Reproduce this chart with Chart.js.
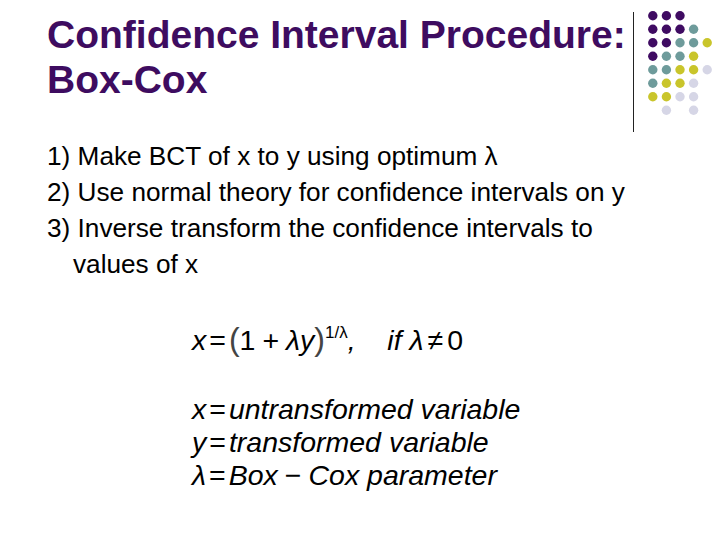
<!DOCTYPE html>
<html>
<head>
<meta charset="utf-8">
<script src="https://cdn.jsdelivr.net/npm/chart.js@4.4.1/dist/chart.umd.min.js"></script>
<style>
  html, body { margin: 0; padding: 0; background: #fff; }
  body { width: 728px; height: 546px; position: relative; overflow: hidden;
         font-family: Arial, "Liberation Sans", sans-serif; }
  .title { position: absolute; left: 47px; top: 12px; font-size: 39px; line-height: 45px;
           font-weight: bold; color: #3e0c60; white-space: nowrap; }
  .bullets { position: absolute; left: 47px; top: 138px; font-size: 26.2px; line-height: 36px;
             color: #000; white-space: nowrap; }
  .bullets .cont { padding-left: 26px; }
  .eq { position: absolute; left: 192px; font-size: 28.5px; line-height: 28px; color: #000;
        white-space: nowrap; font-style: italic; }
  .eq .up { font-style: normal; }
  .eq .op { font-style: normal; margin: 0 3px; }
  .eq .pm { font-style: normal; margin: 0 7px; }
  .eq .ne { font-style: normal; margin: 0 4px; }
  .eq .par { font-style: normal; font-weight: 100; color: #444; font-size: 32px; }
  .eq sup { font-size: 17px; font-style: normal; vertical-align: 0; position: relative; top: -12px; }
  .vline { position: absolute; left: 633px; top: 12px; width: 1px; height: 120px; background: #222; }
  #dotsWrap { position: absolute; left: 646px; top: 9px; width: 68px; height: 108px; }
</style>
</head>
<body>
<div class="title">Confidence Interval Procedure:<br>Box-Cox</div>

<div class="bullets">
  <div>1) Make BCT of x to y using optimum λ</div>
  <div>2) Use normal theory for confidence intervals on y</div>
  <div>3) Inverse transform the confidence intervals to</div>
  <div class="cont">values of x</div>
</div>

<div class="eq" style="top:325px">x<span class="op">=</span><span class="par">(</span><span class="up">1</span><span class="pm">+</span>λy<span class="par">)</span><sup>1/λ</sup>,&nbsp;&nbsp;&nbsp; if λ<span class="ne">≠</span><span class="up">0</span></div>
<div class="eq" style="top:395px">x<span class="op">=</span>untransformed variable</div>
<div class="eq" style="top:428px">y<span class="op">=</span>transformed variable</div>
<div class="eq" style="top:461px">λ<span class="op">=</span>Box<span class="pm">−</span>Cox parameter</div>

<div class="vline"></div>
<div id="dotsWrap"><canvas id="dots" width="68" height="108"></canvas></div>

<script>
// decorative dot grid, one string per row, one letter per column
const gridRows = [
  "PPP..",
  "PPPT.",
  "PPTTY",
  "PTTY.",
  "TTYYL",
  "TYYL.",
  "YYLL.",
  ".L.L."
];
const dotKeys = ["P", "T", "Y", "L"];
const dotColors = ["#3f0b62", "#6e9b9b", "#c9c52b", "#d6d6e6"];

const datasets = dotKeys.map((key, k) => {
  const pts = [];
  gridRows.forEach((row, r) => {
    row.split("").forEach((c, col) => {
      if (c === key) pts.push({ x: col, y: r });
    });
  });
  return {
    data: pts,
    backgroundColor: dotColors[k],
    borderWidth: 0,
    pointRadius: 4.7,
    pointHoverRadius: 4.7,
    clip: false
  };
});

new Chart(document.getElementById("dots"), {
  type: "scatter",
  data: { datasets: datasets },
  options: {
    responsive: false,
    animation: false,
    events: [],
    layout: { padding: 0, autoPadding: false },
    plugins: { legend: { display: false }, tooltip: { enabled: false } },
    scales: {
      x: { type: "linear", display: false, min: -0.5, max: gridRows[0].length - 0.5 },
      y: { type: "linear", display: false, reverse: true, min: -0.5, max: gridRows.length - 0.5 }
    }
  }
});
</script>
</body>
</html>
